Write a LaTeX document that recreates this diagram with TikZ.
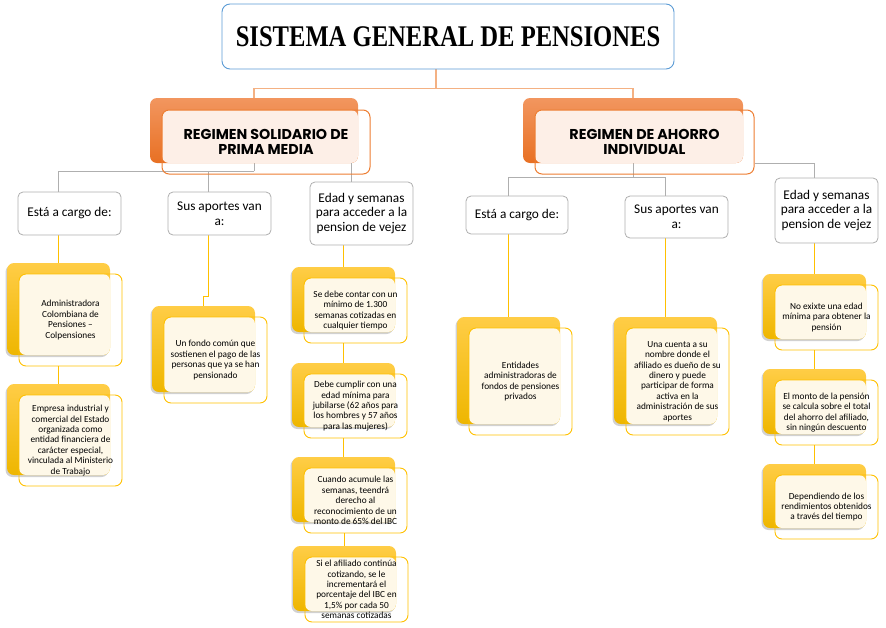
\documentclass[tikz,border=0pt]{standalone}
\usepackage{fontspec}
\setmainfont{Carlito}
\newfontfamily\headfont{Poppins}
\newfontfamily\titlefont{Liberation Serif}
\usetikzlibrary{backgrounds}
\definecolor{titleblue}{RGB}{91,155,213}
\definecolor{orlink}{RGB}{244,177,131}
\definecolor{orT}{RGB}{242,150,95}
\definecolor{orB}{RGB}{232,112,35}
\definecolor{orBorder}{RGB}{237,125,49}
\definecolor{peach}{RGB}{253,239,231}
\definecolor{grayline}{RGB}{175,175,175}
\definecolor{yel}{RGB}{255,192,0}
\definecolor{yelT}{RGB}{255,205,70}
\definecolor{yelB}{RGB}{238,182,0}
\definecolor{cream}{RGB}{254,248,232}
\tikzset{
  titlebox/.style={draw=titleblue, line width=0.9pt, rounded corners=8pt, fill=white, align=center},
  headback/.style={top color=orT, bottom color=orB, rounded corners=7pt, draw=none, inner sep=0pt},
  headfront/.style={draw=orBorder, line width=1pt, rounded corners=7pt, align=center, inner sep=0pt,
    font=\headfont\bfseries\fontsize{14.3}{14.5}\selectfont},
  lvtwo/.style={draw=grayline, line width=0.8pt, rounded corners=5pt, fill=white, align=center,
    inner sep=1pt, font=\fontsize{13.3}{14.6}\selectfont},
  leafback/.style={top color=yelT, bottom color=yelB, rounded corners=7pt, draw=none, inner sep=0pt},
  leafshadow/.style={fill=black, opacity=0.18, rounded corners=7pt},
  leaffront/.style={draw=yel, line width=0.9pt, rounded corners=7pt, align=center, inner sep=1pt,
    font=\fontsize{9.3}{10.4}\selectfont},
  graylink/.style={draw=grayline, line width=0.9pt},
  yellink/.style={draw=yel, line width=1pt},
  orangelink/.style={draw=orlink, line width=1.4pt},
}
\newcommand{\mkleaf}[6]{%
  \fill[leafshadow] (#2-1.5,#3+2) rectangle (#4-1.5,#5+2);
  \node[leafback, minimum width={#4-#2}, minimum height={#5-#3}] (#1b) at ({(#2+#4)/2},{(#3+#5)/2}) {};
  \fill[cream, rounded corners=7pt] (#2+12,#3+11) rectangle (#4,#5);
  \node[leaffront, minimum width={#4-#2}, minimum height={#5-#3}] (#1) at ({(#2+#4)/2+12},{(#3+#5)/2+11}) {#6};
}
\begin{document}
\begin{tikzpicture}[x=1pt,y=-1pt]
\useasboundingbox (0,0) rectangle (886,627);

% title
\node[titlebox, minimum width=452, minimum height=65] (title) at (448,36.5)
  {\titlefont\bfseries\fontsize{30}{32}\selectfont\scalebox{0.82}[1]{SISTEMA GENERAL DE PENSIONES}};

% headers
\node[headback, minimum width=208, minimum height=65] (hLb) at (254,130.5) {};
\fill[peach, rounded corners=7pt] (162,110) rectangle (358,163);
\node[headfront, minimum width=208, minimum height=64] (hL) at (266,142) {REGIMEN SOLIDARIO DE\\PRIMA MEDIA};

\node[headback, minimum width=220, minimum height=65] (hRb) at (633,130.5) {};
\fill[peach, rounded corners=7pt] (535,110) rectangle (743,163);
\node[headfront, minimum width=219, minimum height=64] (hR) at (644.5,142) {REGIMEN DE AHORRO\\INDIVIDUAL};

% level two
\node[lvtwo, minimum width=103, minimum height=43] (b1) at (69.5,213.5) {Está a cargo de:};
\node[lvtwo, minimum width=103, minimum height=43] (b2) at (219.5,213.5) {Sus aportes van\\a:};
\node[lvtwo, minimum width=103, minimum height=63] (b3) at (361.5,213.5) {Edad y semanas\\para acceder a la\\pension de vejez};
\node[lvtwo, minimum width=102, minimum height=38] (b4) at (517,215) {Está a cargo de:};
\node[lvtwo, minimum width=103, minimum height=42] (b5) at (676.5,217) {Sus aportes van\\a:};
\node[lvtwo, minimum width=103, minimum height=65] (b6) at (826.5,210.5) {Edad y semanas\\para acceder a la\\pension de vejez};

% leaves
\mkleaf{L1}{7}{263}{110}{355}{Administradora\\Colombiana de\\Pensiones –\\Colpensiones}
\mkleaf{L2}{7}{384}{110}{475}{Empresa industrial y\\comercial del Estado\\organizada como\\entidad financiera de\\carácter especial,\\vinculada al Ministerio\\de Trabajo}
\mkleaf{M1}{152}{306}{255}{392}{Un fondo común que\\sostienen el pago de las\\personas que ya se han\\pensionado}
\mkleaf{C1}{292}{267}{395}{332}{Se debe contar con un\\mínimo de 1.300\\semanas cotizadas en\\cualquier tiempo}
\mkleaf{C2}{292}{363}{395}{427}{Debe cumplir con una\\edad mínima para\\jubilarse (62 años para\\los hombres y 57 años\\para las mujeres)}
\mkleaf{C3}{292}{457}{395}{522}{Cuando acumule las\\semanas, teendrá\\derecho al\\reconocimiento de un\\monto de 65\% del IBC}
\mkleaf{C4}{293}{546}{396}{611}{Si el afiliado continúa\\cotizando, se le\\incrementará el\\porcentaje del IBC en\\1,5\% por cada 50\\semanas cotizadas}
\mkleaf{R1}{457}{317}{560}{424}{Entidades\\administradoras de\\fondos de pensiones\\privados}
\mkleaf{R2}{614}{317}{717}{424}{Una cuenta a su\\nombre donde el\\afiliado es dueño de su\\dinero y puede\\participar de forma\\activa en la\\administración de sus\\aportes}
\mkleaf{Ra}{763}{274}{866}{339}{No exixte una edad\\mínima para obtener la\\pensión}
\mkleaf{Rb}{763}{369}{866}{434}{El monto de la pensión\\se calcula sobre el total\\del ahorro del afiliado,\\sin ningún descuento}
\mkleaf{Rc}{763}{464}{866}{528}{Dependiendo de los\\rendimientos obtenidos\\a través del tiempo}

% connectors
\begin{scope}[on background layer]
  \draw[orangelink] ([xshift=-12pt]title.south) -- ++(0,19) coordinate (tj);
  \draw[orangelink] (tj) -| (hLb.north);
  \draw[orangelink] (tj) -| (hRb.north);

  \draw[graylink] (hLb.south) -- ++(0,8) coordinate (lj);
  \draw[graylink] (lj) -| (L1b.north |- b1.north);
  \draw[graylink] (lj) -| ([xshift=4.5pt]M1b.north |- b2.north);
  \draw[graylink] ([xshift=-10pt]b3.north |- hLb.south) -- ([xshift=-10pt]b3.north);

  \draw[graylink] (hRb.south) -- ++(0,14) coordinate (rj);
  \draw[graylink] (rj) -| (R1b.north |- b4.north);
  \draw[graylink] (rj) -| (R2b.north |- b5.north);
  \draw[graylink] (hR.east |- hRb.south) -| (Rab.north |- b6.north);

  \draw[yellink] (L1b.north |- b1.south) -- (L1b.north);
  \draw[yellink] (L2b.north |- L1.south) -- (L2b.north);
  \draw[yellink] ([xshift=4.5pt]M1b.north |- b2.south) -- ++(0,61) -| (M1b.north);
  \draw[yellink] (C1b.north |- b3.south) -- (C1b.north);
  \draw[yellink] (C2b.north |- C1.south) -- (C2b.north);
  \draw[yellink] (C3b.north |- C2.south) -- (C3b.north);
  \draw[yellink] (C4b.north |- C3.south) -- (C4b.north);
  \draw[yellink] (R1b.north |- b4.south) -- (R1b.north);
  \draw[yellink] (R2b.north |- b5.south) -- (R2b.north);
  \draw[yellink] (Rab.north |- b6.south) -- (Rab.north);
  \draw[yellink] (Rbb.north |- Ra.south) -- (Rbb.north);
  \draw[yellink] (Rcb.north |- Rb.south) -- (Rcb.north);
\end{scope}
\end{tikzpicture}
\end{document}
